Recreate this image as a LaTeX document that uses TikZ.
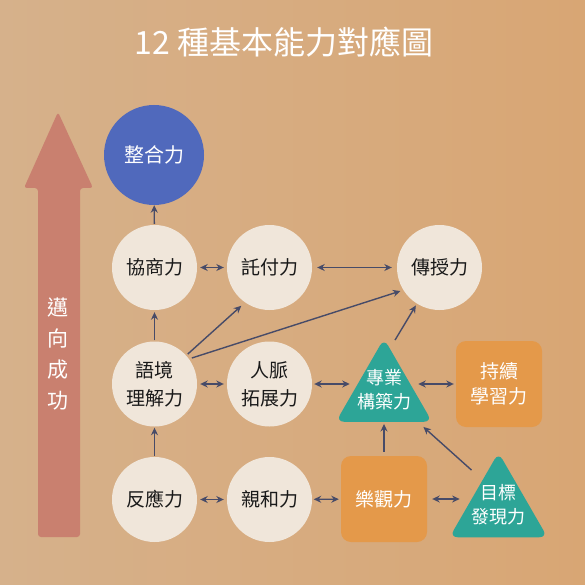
\documentclass[tikz,border=0pt]{standalone}
\usepackage{fontspec}
\setmainfont{Noto Sans CJK TC}
\usetikzlibrary{shapes.geometric,arrows.meta}
\definecolor{bgl}{HTML}{D6B18B}
\definecolor{bgr}{HTML}{D8A674}
\definecolor{bluec}{HTML}{5069BC}
\definecolor{creamc}{HTML}{F0E6DA}
\definecolor{tealc}{HTML}{2DA597}
\definecolor{orangec}{HTML}{E4994A}
\definecolor{salmonc}{HTML}{C9806F}
\definecolor{linec}{HTML}{474B68}
\begin{document}
\begin{tikzpicture}[x=1pt,y=-1pt,
  circ/.style={circle,fill=creamc,minimum size=85pt,inner sep=0pt,align=center,
    font=\fontsize{19}{28}\selectfont,text=black!90},
  bluecirc/.style={circle,fill=bluec,minimum size=100pt,inner sep=0pt,align=center,
    font=\fontsize{20}{28}\selectfont,text=white},
  sq/.style={rectangle,rounded corners=10pt,fill=orangec,minimum size=86pt,inner sep=0pt,
    align=center,font=\fontsize{19}{25}\selectfont,text=white},
  tri/.style={regular polygon,regular polygon sides=3,minimum size=111pt,fill=tealc,
    rounded corners=8pt,inner sep=0pt},
  tritext/.style={align=center,font=\fontsize{18}{24}\selectfont,text=white},
  arr/.style={draw=linec,line width=1.4pt,arrows={-Stealth[length=7.5pt,width=7pt]}},
  darr/.style={draw=linec,line width=1.4pt,arrows={Stealth[length=7.5pt,width=7pt]-Stealth[length=7.5pt,width=7pt]}}
]
\useasboundingbox (0,0) rectangle (585,585);
\shade[left color=bgl,right color=bgr] (0,0) rectangle (585,585);

% title
\node[text=white,font=\fontsize{32}{36}\selectfont] (title) at (284,42) {12 種基本能力對應圖};

% big arrow
\fill[salmonc,rounded corners=3pt] (38,537) -- (38,188) -- (24,188) -- (58,112) -- (93,188) -- (80,188) -- (80,537) -- cycle;
\node[text=white,align=center,font=\fontsize{21}{31}\selectfont] (goal) at (58,354) {邁\\向\\成\\功};

% nodes
\node[bluecirc] (zh) at (154,155) {整合力};
\node[circ] (xs) at (154.5,267.5) {協商力};
\node[circ] (tf) at (269.5,267.5) {託付力};
\node[circ] (cs) at (439.5,267.5) {傳授力};
\node[circ] (yj) at (154.5,384) {語境\\理解力};
\node[circ] (rm) at (269.5,384) {人脈\\拓展力};
\node[circ] (fy) at (154.5,499.5) {反應力};
\node[circ] (qh) at (269.5,499.5) {親和力};
\node[tri] (t1) at (384,394) {};
\node[tritext] (t1text) at (384,390) {專業\\構築力};
\node[sq] (cx) at (499,384) {持續\\學習力};
\node[sq] (lg) at (384,499) {樂觀力};
\node[tri,minimum size=113pt] (mb) at (498.5,509) {};
\node[tritext] (mbtext) at (498.5,505) {目標\\發現力};

% connectors
\draw[arr,shorten <=1pt] (xs) -- (zh);
\draw[darr,shorten <=3pt,shorten >=3pt] (xs) -- (tf);
\draw[darr,shorten <=5pt,shorten >=5pt] (tf) -- (cs);
\draw[arr,shorten <=1pt,shorten >=2pt] (yj) -- (xs);
\draw[arr,shorten <=2pt,shorten >=5pt] (yj.42) -- (tf.235);
\draw[arr,shorten <=3pt,shorten >=3pt] (yj.36) -- (cs.212);
\draw[darr,shorten <=3pt,shorten >=3pt] (yj) -- (rm);
\draw[darr,shorten <=2pt,shorten >=2pt] (rm.east) -- (rm.east -| t1.west);
\draw[darr,shorten <=2pt,shorten >=2pt] (t1.east |- cx.west) -- (cx.west);
\draw[arr,shorten >=2pt] ([shift={(11,2)}]t1.corner 1) -- (cs.238);
\draw[arr,shorten <=4pt,shorten >=2pt] (lg) -- (t1);
\draw[arr] ([shift={(-27,18)}]mb.corner 1) -- ([shift={(-9,5)}]t1.corner 3);
\draw[darr,shorten <=5pt,shorten >=6pt] (lg.east) -- (lg.east -| mb.west);
\draw[darr,shorten <=1.5pt,shorten >=2pt] (qh) -- (lg);
\draw[darr,shorten <=3pt,shorten >=3pt] (fy) -- (qh);
\draw[arr,shorten <=1pt,shorten >=1pt] (fy) -- (yj);
\end{tikzpicture}
\end{document}
